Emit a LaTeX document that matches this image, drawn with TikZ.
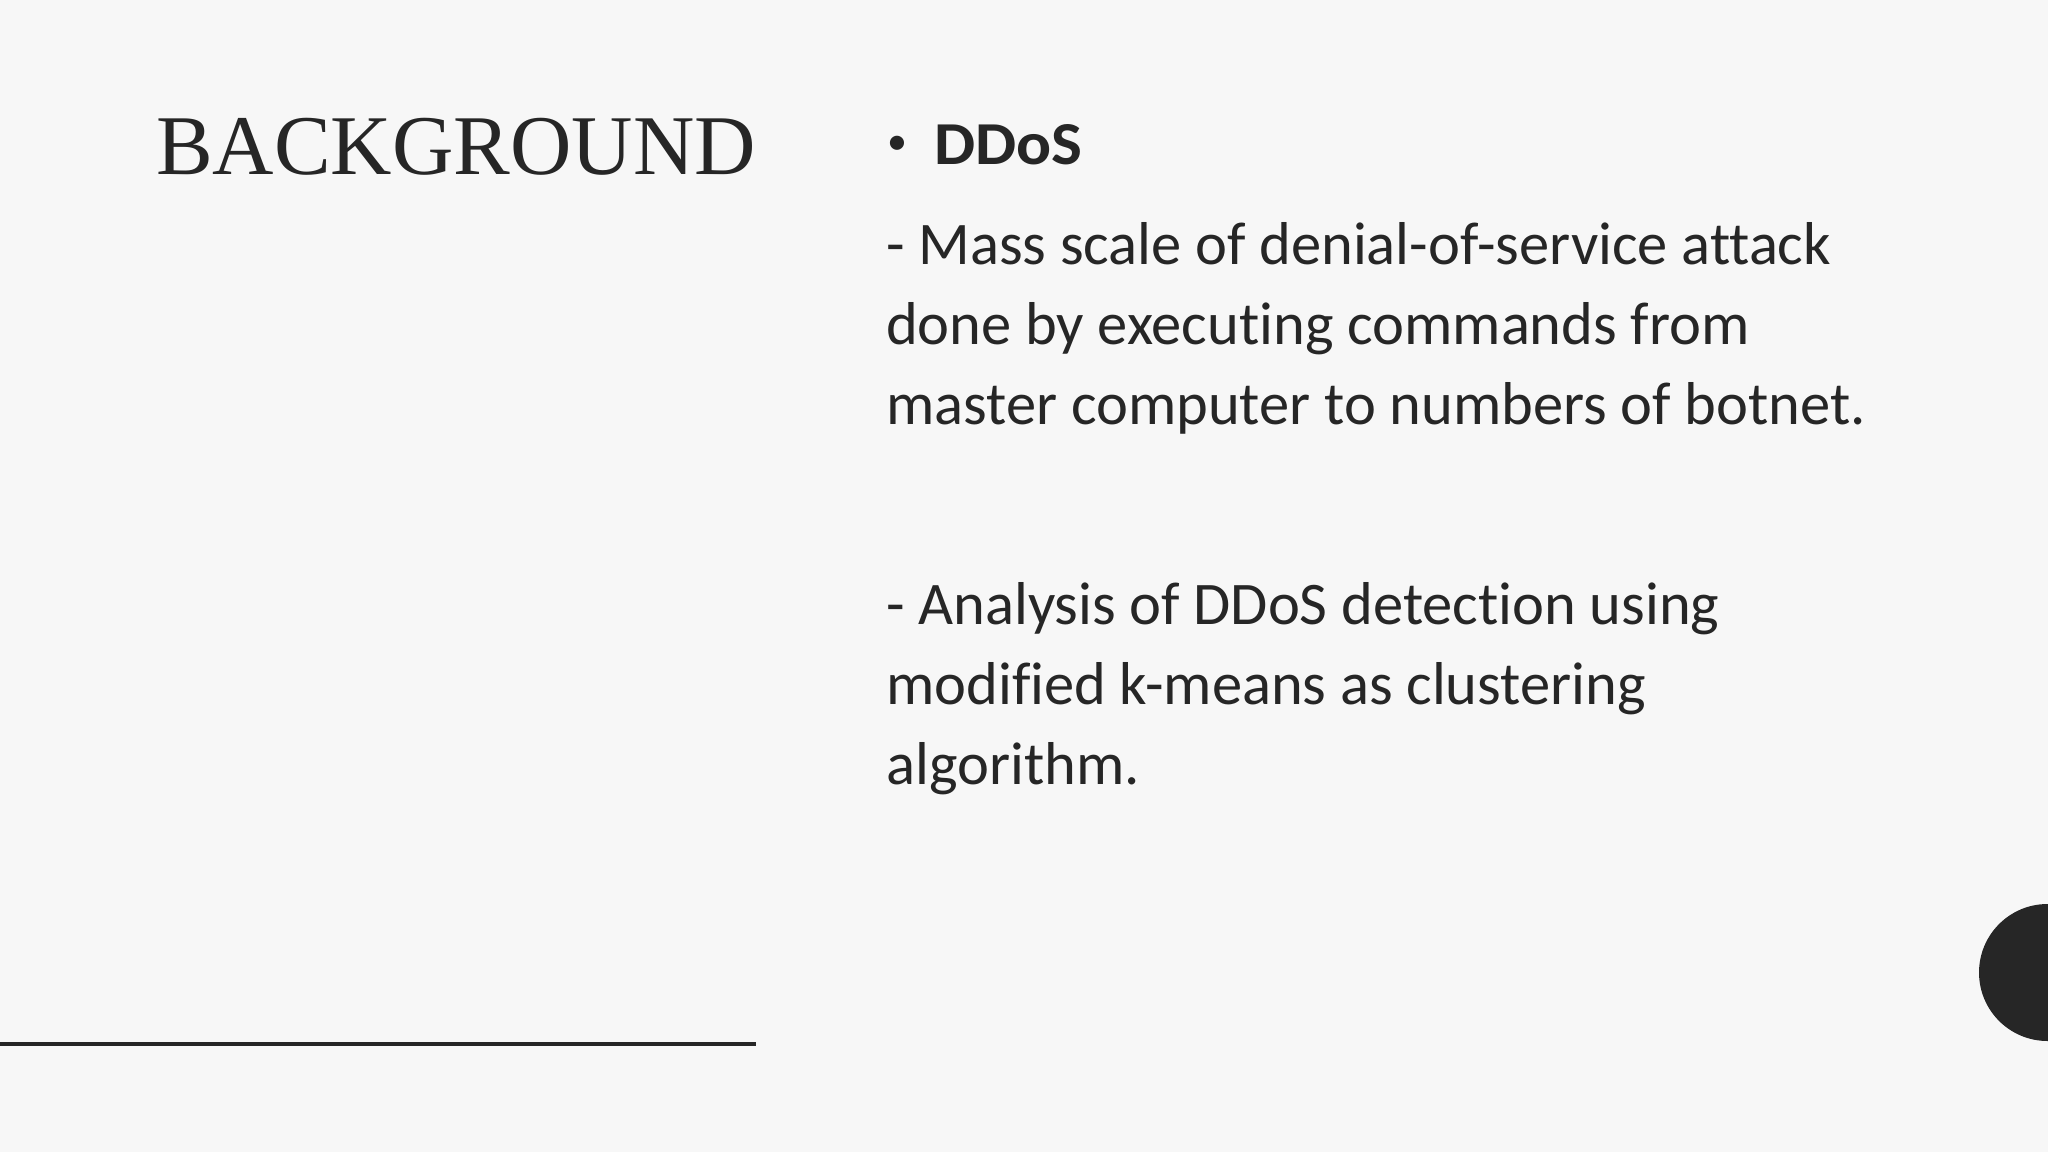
\documentclass[tikz,border=0pt]{standalone}
\usepackage{fontspec}
\setmainfont[Ligatures=NoCommon]{Carlito}
\newfontfamily\titlefont{Liberation Serif}
\definecolor{pagebg}{HTML}{F7F7F7}
\definecolor{inkdark}{HTML}{262626}
\tikzset{
  bodyline/.style={anchor=base west,inner sep=0pt,text=inkdark,font=\fontsize{60.5bp}{70bp}\selectfont},
}
\begin{document}
\begin{tikzpicture}[x=1bp,y=-1bp]
    \path[use as bounding box,fill=pagebg] (0,0) rectangle (2048,1152);
    \node[anchor=base west,inner sep=0pt,text=inkdark,font=\titlefont\fontsize{85bp}{90bp}\selectfont] (title) at (156,174) {BACKGROUND};
    \node[bodyline,font=\fontsize{40bp}{50bp}\selectfont] (bullet) at (887,154) {•};
    \node[bodyline,font=\fontsize{61bp}{70bp}\selectfont\bfseries\addfontfeatures{FakeStretch=1.07}] (ddos) at (934,164) {DDoS};
    \node[bodyline] (massa) at (886,264) {- Mass scale of denial-of-service attack};
    \node[bodyline] (massb) at (886,344) {done by executing commands from};
    \node[bodyline] (massc) at (886,424) {master computer to numbers of botnet.};
    \node[bodyline] (anala) at (886,624) {- Analysis of DDoS detection using};
    \node[bodyline] (analb) at (886,704) {modified k-means as clustering};
    \node[bodyline] (analc) at (886,784) {algorithm.};
    \fill[inkdark] (2047.5,972.5) circle (68.5);
    \draw[inkdark,line width=4bp] (0,1044) -- (756,1044);
  \end{tikzpicture}
\end{document}
